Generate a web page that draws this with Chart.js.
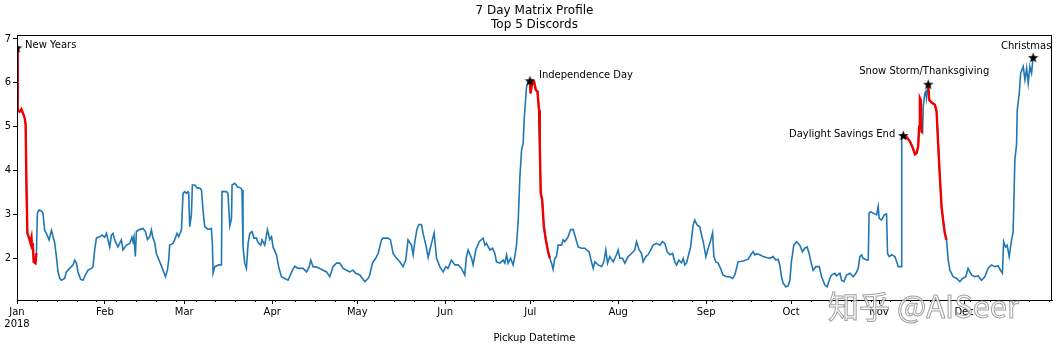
<!DOCTYPE html>
<html>
<head>
<meta charset="utf-8">
<script src="https://cdn.jsdelivr.net/npm/chart.js@4.4.0/dist/chart.umd.min.js"></script>
<style>
  body { margin: 0; background: #fff; }
</style>
</head>
<body>
<canvas id="mpChart" width="1058" height="352"></canvas>
<script>
// days since 2018-01-01 and matrix profile value
var days = [
  0, 0.15, 0.35, 0.95, 1.55, 2.1, 2.7, 3.05, 3.3, 3.65,
  4.25, 4.75, 5.1, 5.3, 5.55, 5.9, 6.5, 6.85, 7.2, 7.75,
  8.6, 9.15, 9.75, 10.35, 11.3, 12.15, 12.7, 13.3, 13.9, 14.45,
  15.05, 15.65, 16.8, 17.4, 18.6, 19.75, 20.35, 20.95, 21.5, 22.45,
  23.3, 24.1, 25.05, 26.25, 26.8, 27.4, 28.0, 29.15, 30.0, 30.95,
  31.55, 32.7, 33.3, 33.85, 34.45, 35.6, 36.8, 37.4, 38.6, 39.75,
  40.55, 40.9, 41.25, 41.75, 42.1, 43.3, 44.45, 45.3, 46.0, 46.8,
  47.4, 47.95, 48.55, 49.15, 50.35, 51.5, 52.35, 53.05, 53.5, 53.85,
  55.0, 55.6, 56.45, 57.05, 58.0, 58.55, 59.15, 59.75, 60.3, 60.55,
  60.9, 61.5, 61.85, 62.7, 63.6, 64.45, 65.05, 65.6, 66.2, 67.4,
  68.55, 68.9, 69.15, 69.75, 71.15, 72.1, 72.3, 73.85, 74.4, 75.05,
  75.65, 75.85, 76.8, 77.75, 78.9, 79.35, 79.7, 80.3, 80.9, 81.5,
  82.1, 82.9, 83.6, 84.45, 85.0, 85.95, 86.4, 87.35, 87.95, 88.3,
  89.15, 89.75, 90.3, 91.5, 92.3, 93.25, 94.45, 95.6, 96.2, 97.15,
  97.95, 99.1, 100.9, 102.1, 103.0, 103.6, 104.4, 105.6, 106.75, 107.95,
  109.15, 110.3, 111.45, 112.65, 113.8, 115.0, 116.2, 117.35, 118.5, 119.5,
  120.9, 122.65, 123.8, 124.4, 125.35, 126.5, 127.35, 128.55, 129.1, 130.85,
  131.7, 132.65, 133.85, 135.0, 136.15, 137.1, 137.9, 139.1, 139.7, 140.3,
  141.1, 141.8, 142.65, 143.2, 144.2, 145.0, 145.6, 146.75, 147.1, 147.95,
  149.1, 150.3, 151.2, 152.0, 153.2, 154.4, 155.55, 156.75, 157.9, 158.5,
  159.1, 160.3, 160.85, 161.8, 163.0, 164.4, 165.0, 165.55, 166.75, 167.7,
  168.5, 169.1, 170.3, 171.45, 172.05, 172.65, 173.2, 174.05, 174.95, 175.55,
  176.15, 176.75, 177.35, 177.95, 178.5, 178.85, 179.35, 179.7, 180.25, 180.9,
  181.1, 181.8, 182.35, 182.95, 183.55, 184.1, 184.35, 184.7, 185.2, 185.8,
  186.5, 187.3, 187.9, 188.5, 189.05, 189.65, 190.25, 190.85, 192.05, 192.6,
  193.2, 194.35, 195.2, 196.1, 196.7, 197.9, 199.1, 200.25, 200.85, 201.75,
  202.6, 203.2, 203.75, 204.95, 206.15, 206.95, 207.65, 208.25, 209.05, 210.25,
  211.4, 212.0, 212.6, 213.55, 214.35, 215.5, 216.7, 217.85, 218.5, 219.4,
  220.25, 220.8, 221.75, 222.55, 223.15, 224.35, 225.55, 226.7, 227.65, 228.45,
  229.3, 230.25, 231.2, 232.0, 232.6, 233.4, 234.35, 234.95, 235.5, 236.1,
  236.7, 237.55, 238.45, 239.05, 239.85, 240.8, 241.4, 242.0, 242.95, 243.75,
  244.7, 245.3, 245.75, 246.45, 247.25, 248.1, 249.0, 250.2, 251.4, 252.35,
  253.15, 254.3, 256.1, 257.85, 259.05, 259.6, 260.2, 260.8, 261.95, 263.1,
  264.3, 265.5, 266.65, 267.6, 268.4, 269.0, 269.6, 270.2, 271.15, 271.95,
  272.55, 273.15, 273.95, 274.9, 276.05, 277.0, 277.8, 278.65, 279.35, 279.85,
  280.75, 281.7, 282.9, 283.75, 284.9, 285.7, 286.65, 287.25, 288.4, 289.0,
  290.2, 290.8, 291.6, 292.55, 293.7, 294.9, 295.85, 296.65, 297.25, 297.85,
  298.4, 299.6, 300.2, 300.5, 301.0, 301.95, 303.15, 303.7, 304.05, 304.9,
  305.85, 306.65, 307.0, 307.6, 308.45, 309.6, 310.8, 311.75, 312.0, 312.55,
  313.75, 314.9, 315.85, 316.65, 317.25, 317.8, 318.15, 318.4, 318.75, 319.0,
  319.35, 319.6, 320.15, 320.5, 320.75, 321.1, 321.35, 321.7, 322.55, 323.7,
  324.3, 324.85, 325.45, 326.05, 326.6, 327.2, 327.8, 328.4, 329.0, 330.15,
  331.35, 332.5, 333.45, 334.6, 335.4, 336.6, 337.75, 338.95, 340.1, 341.3,
  342.45, 343.65, 344.8, 346.0, 346.8, 347.5, 347.95, 348.65, 349.2, 349.9,
  350.75, 351.3, 351.9, 352.5, 352.75, 353.45, 353.95, 354.85, 355.45, 356.05,
  356.6, 357.2, 357.8, 358.35, 358.95
];
var mp = [
  6.80, 5.75, 5.38, 5.34, 5.40, 5.31, 5.20, 5.04, 3.79, 2.58,
  2.46, 2.35, 2.46, 2.23, 2.35, 1.92, 1.89, 2.12, 3.03, 3.10,
  3.08, 3.03, 2.64, 2.57, 2.42, 2.64, 2.50, 2.35, 2.03, 1.70,
  1.55, 1.50, 1.54, 1.69, 1.77, 1.85, 1.96, 1.89, 1.69, 1.52,
  1.50, 1.62, 1.73, 1.77, 1.81, 2.19, 2.46, 2.49, 2.53, 2.48,
  2.57, 2.26, 2.53, 2.57, 2.42, 2.26, 2.42, 2.19, 2.30, 2.34,
  2.48, 2.38, 2.49, 2.04, 2.61, 2.66, 2.68, 2.61, 2.43, 2.49,
  2.65, 2.46, 2.36, 2.11, 1.92, 1.73, 1.58, 1.73, 1.96, 2.30,
  2.34, 2.42, 2.57, 2.49, 2.65, 3.48, 3.52, 3.48, 3.52, 3.50,
  2.72, 2.99, 3.67, 3.67, 3.60, 3.60, 3.56, 3.10, 2.72, 2.66,
  2.68, 2.34, 1.66, 1.81, 1.85, 1.85, 3.52, 3.52, 3.48, 2.74,
  2.91, 3.67, 3.71, 3.63, 3.60, 3.56, 2.26, 1.89, 1.77, 2.34,
  2.57, 2.61, 2.46, 2.46, 2.36, 2.30, 2.42, 2.30, 2.51, 2.65,
  2.43, 2.49, 2.26, 2.08, 1.80, 1.58, 1.54, 1.50, 1.59, 1.73,
  1.82, 1.77, 1.77, 1.69, 1.80, 1.96, 1.81, 1.80, 1.77, 1.73,
  1.69, 1.58, 1.81, 1.89, 1.89, 1.77, 1.73, 1.69, 1.73, 1.66,
  1.62, 1.47, 1.54, 1.62, 1.89, 2.00, 2.11, 2.42, 2.46, 2.46,
  2.42, 2.11, 2.00, 1.92, 1.81, 1.96, 2.42, 2.30, 2.08, 2.38,
  2.68, 2.77, 2.77, 2.57, 2.30, 2.02, 2.19, 2.49, 2.58, 2.00,
  1.81, 1.69, 1.81, 1.77, 1.96, 1.85, 1.85, 1.77, 1.62, 2.04,
  2.19, 2.00, 1.85, 2.19, 2.38, 2.46, 2.30, 2.34, 2.19, 2.23,
  2.11, 1.92, 1.89, 1.96, 1.89, 2.08, 1.89, 2.00, 1.85, 2.04,
  2.30, 2.85, 3.86, 4.47, 4.62, 5.15, 5.61, 5.91, 6.03, 6.05,
  5.76, 6.05, 6.03, 5.84, 5.80, 5.38, 4.62, 3.48, 3.34, 2.72,
  2.42, 2.15, 2.00, 1.89, 1.75, 2.00, 2.04, 2.30, 2.30, 2.42,
  2.38, 2.49, 2.65, 2.66, 2.53, 2.26, 2.23, 2.23, 2.19, 2.15,
  1.92, 1.77, 1.92, 1.85, 1.81, 1.92, 2.19, 1.89, 2.04, 1.92,
  2.08, 2.19, 2.00, 2.00, 1.89, 2.04, 2.11, 2.19, 2.38, 2.19,
  2.11, 1.92, 2.04, 2.08, 2.15, 2.30, 2.34, 2.30, 2.38, 2.34,
  2.15, 2.08, 2.11, 1.92, 1.85, 1.96, 1.90, 2.00, 1.85, 1.89,
  2.04, 2.26, 2.76, 2.87, 2.76, 2.72, 2.53, 2.38, 2.04, 2.23,
  2.42, 2.58, 2.04, 1.92, 1.89, 1.77, 1.62, 1.58, 1.58, 1.54,
  1.62, 1.92, 1.94, 1.98, 2.11, 2.15, 2.08, 2.10, 2.08, 2.04,
  2.02, 2.00, 2.04, 1.96, 1.98, 1.85, 1.58, 1.43, 1.35, 1.37,
  1.50, 1.95, 2.30, 2.38, 2.30, 2.15, 2.23, 2.26, 2.11, 1.96,
  1.73, 1.81, 1.81, 1.58, 1.39, 1.35, 1.54, 1.62, 1.66, 1.60,
  1.66, 1.50, 1.47, 1.62, 1.66, 1.58, 1.66, 1.77, 2.04, 2.08,
  2.00, 1.96, 1.96, 3.03, 3.06, 3.03, 2.99, 3.18, 2.91, 2.87,
  2.99, 3.01, 2.11, 2.04, 2.08, 2.04, 1.81, 1.81, 4.77, 4.80,
  4.76, 4.66, 4.53, 4.37, 4.40, 4.55, 5.00, 5.65, 5.60, 4.89,
  4.86, 5.46, 5.76, 5.80, 5.65, 5.85, 5.97, 5.61, 5.55, 5.50,
  5.34, 4.62, 3.86, 3.18, 2.87, 2.57, 2.42, 1.96, 1.73, 1.58,
  1.54, 1.47, 1.54, 1.58, 1.77, 1.62, 1.58, 1.60, 1.50, 1.58,
  1.77, 1.85, 1.81, 1.83, 1.73, 1.66, 2.38, 2.26, 2.30, 2.04,
  2.42, 2.61, 4.24, 4.60, 5.38, 5.76, 6.22, 6.37, 6.07, 6.33,
  5.99, 6.37, 6.22, 6.58, 6.55
];

var discordDays = [0, 180.9, 312.55, 321.35, 358.35];
var discordNames = ['New Years', 'Independence Day', 'Daylight Savings End',
                    'Snow Storm/Thanksgiving', 'Christmas'];
var windowDays = 7;

var monthStarts = [0, 31, 59, 90, 120, 151, 181, 212, 243, 273, 304, 334];
var monthNames = ['Jan', 'Feb', 'Mar', 'Apr', 'May', 'Jun',
                  'Jul', 'Aug', 'Sep', 'Oct', 'Nov', 'Dec'];
var yTicks = [2, 3, 4, 5, 6, 7];

// label placement for each discord: alignment and pixel offset from its star
var labelPlacement = [
  { align: 'left', dx: 8, dy: -2 },
  { align: 'left', dx: 9, dy: -5 },
  { align: 'right', dx: -8, dy: -1 },
  { align: 'center', dx: -4, dy: -13 },
  { align: 'center', dx: -7, dy: -11 }
];

var FONT = '"DejaVu Sans", "Liberation Sans", sans-serif';

var profilePoints = days.map(function (d, i) { return { x: d, y: mp[i] }; });

var discordPoints = [];
discordDays.forEach(function (start, k) {
  if (k > 0) discordPoints.push({ x: start - 0.01, y: null });
  days.forEach(function (d, i) {
    if (d >= start - 1e-6 && d <= start + windowDays + 1e-6) {
      discordPoints.push({ x: d, y: mp[i] });
    }
  });
});

var starPoints = discordDays.map(function (start) {
  var i = days.indexOf(start);
  return { x: start, y: mp[i] };
});

// filled five point star, like matplotlib's '*' marker
function makeStar(size) {
  var c = document.createElement('canvas');
  c.width = size; c.height = size;
  var g = c.getContext('2d');
  var cx = size / 2, cy = size / 2 + 0.5, ro = size / 2, ri = ro * 0.42;
  g.beginPath();
  for (var i = 0; i < 10; i++) {
    var r = i % 2 === 0 ? ro : ri;
    var a = -Math.PI / 2 + i * Math.PI / 5;
    var px = cx + r * Math.cos(a), py = cy + r * Math.sin(a);
    if (i === 0) g.moveTo(px, py); else g.lineTo(px, py);
  }
  g.closePath();
  g.fillStyle = '#000';
  g.fill();
  return c;
}
var starImg = makeStar(11);

var extras = {
  id: 'extras',
  afterDraw: function (chart) {
    var ctx = chart.ctx, a = chart.chartArea;
    var xs = chart.scales.x, ys = chart.scales.y;
    ctx.save();
    // frame
    ctx.strokeStyle = '#000';
    ctx.lineWidth = 1;
    ctx.strokeRect(a.left + 0.5, a.top + 0.5, a.right - a.left - 1, a.bottom - a.top);
    // weekly minor ticks
    ctx.beginPath();
    for (var d = 0; d <= 365; d += 7) {
      var px = Math.round(xs.getPixelForValue(d)) + 0.5;
      ctx.moveTo(px, a.bottom);
      ctx.lineTo(px, a.bottom + 2);
    }
    ctx.stroke();
    // titles
    ctx.fillStyle = '#000';
    ctx.textAlign = 'center';
    ctx.textBaseline = 'middle';
    var cx = (a.left + a.right) / 2;
    ctx.font = '12px ' + FONT;
    ctx.fillText('7 Day Matrix Profile', cx, 11);
    ctx.fillText('Top 5 Discords', cx, 25);
    ctx.font = '10px ' + FONT;
    ctx.fillText('Pickup Datetime', cx, 338);
    // discord labels
    starPoints.forEach(function (p, k) {
      var place = labelPlacement[k];
      ctx.textAlign = place.align;
      ctx.fillText(discordNames[k], xs.getPixelForValue(p.x) + place.dx,
                   ys.getPixelForValue(p.y) + place.dy);
    });
    // watermark
    ctx.font = '31px "Noto Sans CJK SC", sans-serif';
    ctx.textAlign = 'left';
    ctx.fillStyle = 'rgba(255,255,255,0.7)';
    ctx.strokeStyle = 'rgba(130,130,130,0.75)';
    ctx.lineWidth = 1;
    ctx.fillText('知乎 @AISeer', 828, 306);
    ctx.strokeText('知乎 @AISeer', 828, 306);
    ctx.restore();
  }
};

var ctx = document.getElementById('mpChart');
var mpChart = new Chart(ctx, {
  type: 'line',
  data: {
    datasets: [{
      label: 'Discords',
      data: starPoints,
      showLine: false,
      pointStyle: starImg,
      pointRadius: 5,
      order: 0
    }, {
      label: 'Discord windows',
      data: discordPoints,
      borderColor: '#f00000',
      borderWidth: 2.4,
      pointRadius: 0,
      spanGaps: false,
      tension: 0,
      order: 1
    }, {
      label: 'Matrix Profile',
      data: profilePoints,
      borderColor: '#1f77b4',
      borderWidth: 1.6,
      pointRadius: 0,
      tension: 0,
      order: 2
    }]
  },
  options: {
    responsive: false,
    animation: false,
    devicePixelRatio: 1,
    layout: { padding: { top: 35, right: 6, left: 0, bottom: 0 } },
    plugins: {
      legend: { display: false },
      tooltip: { enabled: false },
      title: { display: false }
    },
    scales: {
      x: {
        type: 'linear',
        min: 0,
        max: 365,
        afterBuildTicks: function (axis) {
          axis.ticks = monthStarts.map(function (v) { return { value: v }; });
        },
        afterFit: function (axis) { axis.height = 52; },
        ticks: {
          autoSkip: false,
          maxRotation: 0,
          padding: 2,
          color: '#000',
          font: { family: FONT, size: 10 },
          callback: function (v) {
            var i = monthStarts.indexOf(v);
            return i === 0 ? [monthNames[0], '2018'] : monthNames[i];
          }
        },
        grid: { drawOnChartArea: false, tickLength: 4, color: '#000' },
        border: { color: '#000' }
      },
      y: {
        min: 1.05,
        max: 7.09,
        afterBuildTicks: function (axis) {
          axis.ticks = yTicks.map(function (v) { return { value: v }; });
        },
        afterFit: function (axis) { axis.width = 17; },
        ticks: {
          padding: 2,
          color: '#000',
          font: { family: FONT, size: 10 }
        },
        grid: { drawOnChartArea: false, tickLength: 4, color: '#000' },
        border: { color: '#000' }
      }
    }
  },
  plugins: [extras]
});
</script>
</body>
</html>
